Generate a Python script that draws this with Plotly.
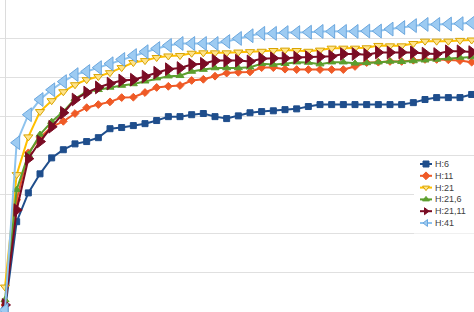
import plotly.graph_objects as go

# ---- data ----
steps = list(range(41))
series_names = ["H:6", "H:11", "H:21", "H:21,6", "H:21,11", "H:41"]

h6 = [0.3, 23.0, 30.4, 35.3, 39.4, 41.5, 43.0, 43.6, 44.6, 46.9, 47.2, 47.7, 48.2, 49.0, 50.0,
      50.0, 50.5, 50.8, 50.0, 49.5, 50.2, 51.0, 51.3, 51.5, 51.8, 52.0, 52.6, 53.1, 53.1, 53.1,
      53.1, 53.1, 53.1, 53.1, 53.1, 53.6, 54.4, 54.9, 54.9, 54.9, 55.7]
h11 = [1.6, 28.6, 40.7, 44.6, 47.4, 48.8, 50.8, 52.3, 53.1, 53.8, 54.9, 55.0, 56.2, 57.5, 57.8,
       58.0, 59.3, 59.6, 60.4, 61.2, 61.4, 61.5, 62.6, 62.6, 62.2, 62.1, 62.1, 62.1, 62.1, 62.1,
       62.9, 63.9, 64.0, 64.2, 64.2, 64.5, 64.7, 64.7, 64.6, 64.4, 64.0]
h21 = [6.2, 35.1, 44.8, 51.3, 54.1, 56.4, 58.2, 59.5, 60.3, 61.3, 62.6, 63.9, 64.4, 65.2, 65.6,
       65.7, 66.3, 66.4, 66.4, 66.4, 66.6, 66.7, 66.8, 67.0, 67.1, 67.0, 66.8, 67.1, 67.6, 67.6,
       67.6, 67.7, 68.3, 68.2, 68.2, 68.8, 69.4, 69.4, 69.4, 69.6, 69.7]
h21_6 = [2.9, 31.2, 40.2, 45.4, 48.7, 51.3, 54.6, 56.4, 56.9, 57.5, 58.0, 58.4, 59.1, 59.9, 60.4,
         60.5, 61.6, 62.1, 62.5, 62.5, 62.5, 62.7, 63.6, 63.4, 63.6, 64.0, 63.9, 63.5, 64.0, 64.0,
         63.7, 63.8, 64.0, 64.2, 64.1, 64.3, 64.5, 64.7, 65.0, 65.2, 65.3]
h21_11 = [1.6, 26.0, 39.2, 43.6, 47.4, 51.0, 54.4, 56.2, 57.5, 58.5, 59.3, 59.5, 60.3, 61.3, 62.2,
          62.5, 63.4, 63.6, 64.4, 64.4, 64.4, 64.2, 64.9, 65.0, 65.0, 65.2, 65.3, 65.4, 65.5, 66.1,
          66.1, 65.9, 66.5, 66.5, 66.5, 66.5, 66.2, 66.1, 66.8, 66.8, 66.6]
h41 = [0.3, 43.3, 50.5, 54.4, 56.9, 59.0, 60.8, 61.6, 62.6, 63.6, 64.7, 65.7, 66.7, 67.5, 68.3,
       68.8, 68.8, 68.8, 68.8, 69.3, 70.1, 70.8, 71.4, 71.4, 71.6, 71.6, 71.7, 71.9, 71.9, 71.9,
       71.9, 72.0, 72.0, 72.5, 72.9, 73.4, 73.7, 73.7, 73.8, 73.9, 74.1]
grid_vals = [0, 10, 20, 30, 40, 50, 60, 70]

# ---- styles ----
styles = [
    dict(line="#1F4E8C", fill="#1F4E8C", edge="#1F4E8C", symbol="square", size=6),
    dict(line="#EF5A26", fill="#EF5A26", edge="#EF5A26", symbol="diamond", size=6),
    dict(line="#FFC000", fill="#FFE38A", edge="#D9A400", symbol="triangle-down", size=8),
    dict(line="#5C9E2E", fill="#5C9E2E", edge="#5C9E2E", symbol="triangle-up", size=7),
    dict(line="#7A0C24", fill="#7A0C24", edge="#7A0C24", symbol="triangle-right", size=11),
    dict(line="#8EC3EE", fill="#9DCBF2", edge="#6BA7DE", symbol="triangle-left", size=12),
]
all_series = [h6, h11, h21, h21_6, h21_11, h41]

W, H = 474, 312
XR = [-0.4286, 40.2]
YR = [-0.21, 79.98]

fig = go.Figure()
for name, ys, st in zip(series_names, all_series, styles):
    fig.add_trace(go.Scatter(
        x=steps, y=ys, name=name, mode="lines+markers",
        line=dict(color=st["line"], width=2),
        marker=dict(symbol=st["symbol"], size=st["size"], color=st["fill"],
                    line=dict(color=st["edge"], width=1)),
        showlegend=False, hoverinfo="skip",
    ))

# ---- custom compact legend (pixel-space overlay axes) ----
KEY_X0, KEY_X1, KEY_Y0, KEY_DY = 420, 432, 164, 11.8
for k, (name, st) in enumerate(zip(series_names, styles)):
    yk = KEY_Y0 + KEY_DY * k
    fig.add_trace(go.Scatter(
        x=[KEY_X0, (KEY_X0 + KEY_X1) / 2, KEY_X1], y=[yk, yk, yk],
        xaxis="x2", yaxis="y2", mode="lines",
        line=dict(color=st["line"], width=2), showlegend=False, hoverinfo="skip"))
    fig.add_trace(go.Scatter(
        x=[(KEY_X0 + KEY_X1) / 2], y=[yk], xaxis="x2", yaxis="y2", mode="markers",
        marker=dict(symbol=st["symbol"], size=6, color=st["fill"],
                    line=dict(color=st["edge"], width=1)),
        showlegend=False, hoverinfo="skip"))
    fig.add_annotation(x=KEY_X1 + 1, y=yk, xref="x2", yref="y2", text=name,
                       showarrow=False, xanchor="left", yanchor="middle",
                       font=dict(family="Liberation Sans, Arial", size=9, color="#404040"))

# white legend background (between gridlines and traces), placed in main-axis units
def px_to_x(px):
    return XR[0] + px / W * (XR[1] - XR[0])

def py_to_y(py):
    return YR[1] - py / H * (YR[1] - YR[0])

fig.add_shape(type="rect", xref="x", yref="y",
              x0=px_to_x(414), x1=px_to_x(W + 2), y0=py_to_y(233.5), y1=py_to_y(157),
              fillcolor="white", line=dict(width=0), layer="between")

fig.update_layout(
    width=W, height=H, autosize=False,
    margin=dict(l=0, r=0, t=0, b=0, pad=0),
    paper_bgcolor="white", plot_bgcolor="white",
    xaxis=dict(range=XR, showgrid=False, zeroline=True,
               zerolinecolor="#DCDCDC", zerolinewidth=1, showticklabels=False,
               ticks="", showline=False),
    yaxis=dict(range=YR, tickvals=grid_vals, showgrid=True,
               gridcolor="#E0E0E0", gridwidth=1, zeroline=False,
               showticklabels=False, ticks="", showline=False),
    xaxis2=dict(range=[0, W], overlaying="x", visible=False, fixedrange=True),
    yaxis2=dict(range=[H, 0], overlaying="y", visible=False, fixedrange=True),
)

fig.write_html("out.html")
